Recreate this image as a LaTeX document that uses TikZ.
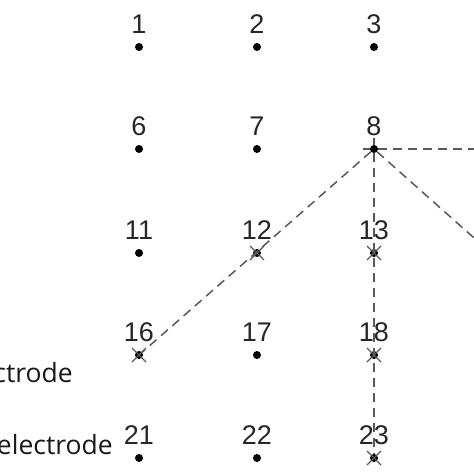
\documentclass[tikz,border=0pt]{standalone}
\usepackage{fontspec}
\usetikzlibrary{calc}
\setmainfont{Liberation Sans}
\newfontfamily\labfont{Open Sans}
\begin{document}
\begin{tikzpicture}[x=1pt,y=-1pt,
  dotnode/.style={circle,fill=black,inner sep=0pt,minimum size=8pt},
  numlabel/.style={anchor=base,inner sep=0pt,text=black!85,font=\fontsize{27}{32}\selectfont},
  sidetext/.style={anchor=base east,inner sep=0pt,text=black!90,font=\labfont\fontsize{26.5}{31}\selectfont},
  dashline/.style={draw=black!65,line width=1.5pt,dash pattern=on 9pt off 6pt},
  crossmark/.style={draw=black!65,line width=1.3pt}
]
\useasboundingbox (0,0) rectangle (474,474);
\clip (0,0) rectangle (474,474);
% grid of electrodes
\foreach \r/\y in {0/47,1/149,2/253,3/355,4/458}{
  \foreach \c/\x in {1/139,2/257,3/374}{
    \pgfmathtruncatemacro{\n}{\r*5+\c}
    \node[dotnode] (d\n) at (\x,\y) {};
    \node[numlabel] (l\n) at (\x,\y-14) {\n};
  }
}
% off-picture electrodes
\coordinate (d9) at (491,149);
\coordinate (d14) at (491,253);
% dashed connections
\draw[dashline] (d8) -- (d9);
\draw[dashline] (d8) -- (d14);
\draw[dashline] (d8) -- (d16);
\draw[dashline] (d8) -- (d23);
% small plus at 8
\draw[dashline] (d8) -- ++(-11,0);
\draw[dashline] (d8) -- ++(0,-11);
% crosses
\foreach \k in {12,13,16,18,23}{
  \draw[crossmark] ($(d\k)+(-7,-7)$) -- ($(d\k)+(7,7)$);
  \draw[crossmark] ($(d\k)+(-7,7)$) -- ($(d\k)+(7,-7)$);
}
% side texts
\node[sidetext] (t1) at (73,382) {Stimulating electrode};
\node[sidetext] (t2) at (113,454) {Recording electrode};
\end{tikzpicture}
\end{document}
